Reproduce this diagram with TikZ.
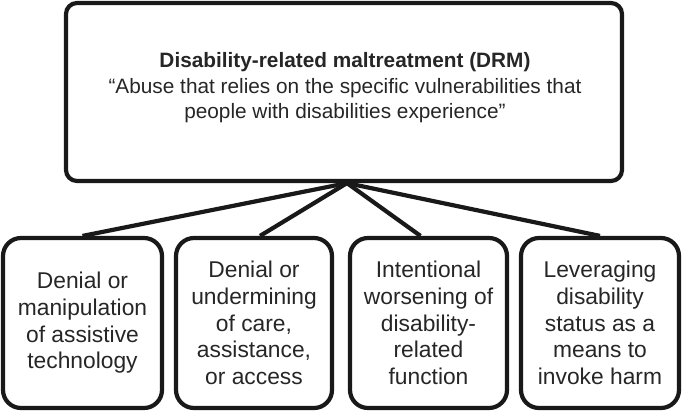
\documentclass[tikz,border=0pt]{standalone}
\usepackage{fontspec}
\setmainfont{Liberation Sans}
\usetikzlibrary{calc}
\begin{document}
\begin{tikzpicture}[x=1pt,y=-1pt,
  box/.style={draw=black!90, line width=4.2pt, rounded corners=18pt, align=center,
    inner sep=0pt, font=\fontsize{22.8}{26.7}\selectfont, text=black!85},
  topbox/.style={draw=black!90, line width=4.2pt, rounded corners=11pt, align=center,
    inner sep=0pt},
  conn/.style={draw=black!90, line width=4.2pt}]
\useasboundingbox (0,0) rectangle (685,413);
\node[topbox, minimum width=556pt, minimum height=178pt] (top) at (344,92) {};
\node[align=center, font=\fontsize{20.8}{25.5}\selectfont, text=black!85] (toptext) at (345,88)
  {\textbf{Disability-related maltreatment (DRM)}\\
   “Abuse that relies on the specific vulnerabilities that\\
   people with disabilities experience”};
\node[box, minimum width=159pt, minimum height=170pt] (b1) at (82.5,323)
  {Denial or\\manipulation\\of assistive\\technology};
\node[box, minimum width=156pt, minimum height=170pt] (b2) at (254,323)
  {Denial or\\undermining\\of care,\\assistance,\\or access};
\node[box, minimum width=157pt, minimum height=170pt] (b3) at (428.5,323)
  {Intentional\\worsening of\\disability-\\related\\function};
\node[box, minimum width=158pt, minimum height=170pt] (b4) at (600,323)
  {Leveraging\\disability\\status as a\\means to\\invoke harm};
\coordinate (apex) at ($(top.south)+(3,0)$);
\draw[conn] (apex) -- (b1.north);
\draw[conn] (apex) -- ($(b2.north)+(6,0)$);
\draw[conn] (apex) -- ($(b3.north)+(-8,0)$);
\draw[conn] (apex) -- (b4.north);
\end{tikzpicture}
\end{document}
